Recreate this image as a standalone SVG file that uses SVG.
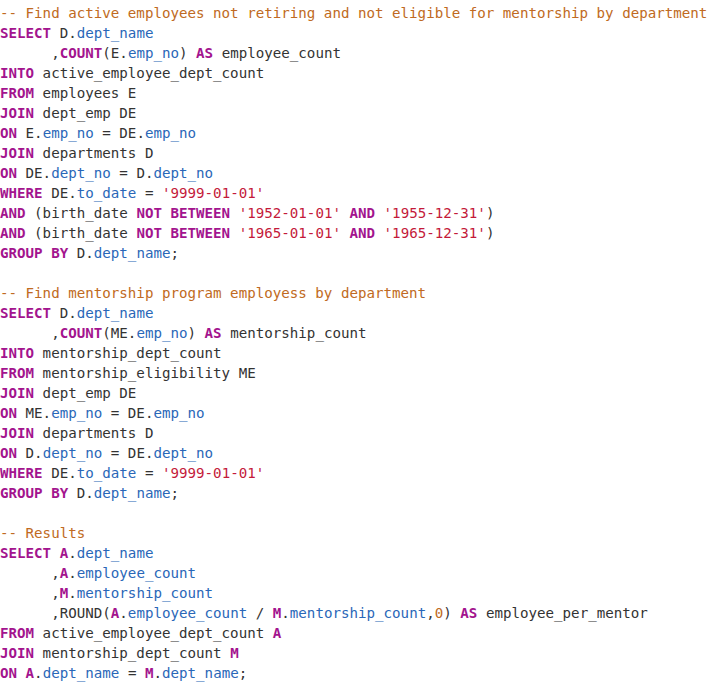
<svg xmlns="http://www.w3.org/2000/svg" width="727" height="686" viewBox="0 0 727 686">
<style>
text{font-family:"DejaVu Sans Mono","Liberation Mono",monospace;font-size:14.17px;fill:#333;white-space:pre}
.c{fill:#c06a22}.k{fill:#a3148e;font-weight:bold}.b{fill:#2a67b8}.s{fill:#c41a3a}.n{fill:#c06a22}
</style>
<rect width="727" height="686" fill="#fff"/>
<g id="code" xml:space="preserve">
<text x="0" y="18" class="c">-- Find active employees not retiring and not eligible for mentorship by department</text>
<text x="0" y="38"><tspan class="k">SELECT</tspan> D.<tspan class="b">dept_name</tspan></text>
<text x="0" y="58">      ,<tspan class="k">COUNT</tspan>(E.<tspan class="b">emp_no</tspan>) <tspan class="k">AS</tspan> employee_count</text>
<text x="0" y="78"><tspan class="k">INTO</tspan> active_employee_dept_count</text>
<text x="0" y="98"><tspan class="k">FROM</tspan> employees E</text>
<text x="0" y="118"><tspan class="k">JOIN</tspan> dept_emp DE</text>
<text x="0" y="138"><tspan class="k">ON</tspan> E.<tspan class="b">emp_no</tspan> = DE.<tspan class="b">emp_no</tspan></text>
<text x="0" y="158"><tspan class="k">JOIN</tspan> departments D</text>
<text x="0" y="178"><tspan class="k">ON</tspan> DE.<tspan class="b">dept_no</tspan> = D.<tspan class="b">dept_no</tspan></text>
<text x="0" y="198"><tspan class="k">WHERE</tspan> DE.<tspan class="b">to_date</tspan> = <tspan class="s">'9999-01-01'</tspan></text>
<text x="0" y="218"><tspan class="k">AND</tspan> (birth_date <tspan class="k">NOT BETWEEN</tspan> <tspan class="s">'1952-01-01'</tspan> <tspan class="k">AND</tspan> <tspan class="s">'1955-12-31'</tspan>)</text>
<text x="0" y="238"><tspan class="k">AND</tspan> (birth_date <tspan class="k">NOT BETWEEN</tspan> <tspan class="s">'1965-01-01'</tspan> <tspan class="k">AND</tspan> <tspan class="s">'1965-12-31'</tspan>)</text>
<text x="0" y="258"><tspan class="k">GROUP BY</tspan> D.<tspan class="b">dept_name</tspan>;</text>
<text x="0" y="298" class="c">-- Find mentorship program employess by department</text>
<text x="0" y="318"><tspan class="k">SELECT</tspan> D.<tspan class="b">dept_name</tspan></text>
<text x="0" y="338">      ,<tspan class="k">COUNT</tspan>(ME.<tspan class="b">emp_no</tspan>) <tspan class="k">AS</tspan> mentorship_count</text>
<text x="0" y="358"><tspan class="k">INTO</tspan> mentorship_dept_count</text>
<text x="0" y="378"><tspan class="k">FROM</tspan> mentorship_eligibility ME</text>
<text x="0" y="398"><tspan class="k">JOIN</tspan> dept_emp DE</text>
<text x="0" y="418"><tspan class="k">ON</tspan> ME.<tspan class="b">emp_no</tspan> = DE.<tspan class="b">emp_no</tspan></text>
<text x="0" y="438"><tspan class="k">JOIN</tspan> departments D</text>
<text x="0" y="458"><tspan class="k">ON</tspan> D.<tspan class="b">dept_no</tspan> = DE.<tspan class="b">dept_no</tspan></text>
<text x="0" y="478"><tspan class="k">WHERE</tspan> DE.<tspan class="b">to_date</tspan> = <tspan class="s">'9999-01-01'</tspan></text>
<text x="0" y="498"><tspan class="k">GROUP BY</tspan> D.<tspan class="b">dept_name</tspan>;</text>
<text x="0" y="538" class="c">-- Results</text>
<text x="0" y="558"><tspan class="k">SELECT</tspan> <tspan class="k">A</tspan>.<tspan class="b">dept_name</tspan></text>
<text x="0" y="578">      ,<tspan class="k">A</tspan>.<tspan class="b">employee_count</tspan></text>
<text x="0" y="598">      ,<tspan class="k">M</tspan>.<tspan class="b">mentorship_count</tspan></text>
<text x="0" y="618">      ,ROUND(<tspan class="k">A</tspan>.<tspan class="b">employee_count</tspan> / <tspan class="k">M</tspan>.<tspan class="b">mentorship_count</tspan>,<tspan class="n">0</tspan>) <tspan class="k">AS</tspan> employee_per_mentor</text>
<text x="0" y="638"><tspan class="k">FROM</tspan> active_employee_dept_count <tspan class="k">A</tspan></text>
<text x="0" y="658"><tspan class="k">JOIN</tspan> mentorship_dept_count <tspan class="k">M</tspan></text>
<text x="0" y="678"><tspan class="k">ON</tspan> <tspan class="k">A</tspan>.<tspan class="b">dept_name</tspan> = <tspan class="k">M</tspan>.<tspan class="b">dept_name</tspan>;</text>
</g>
</svg>
